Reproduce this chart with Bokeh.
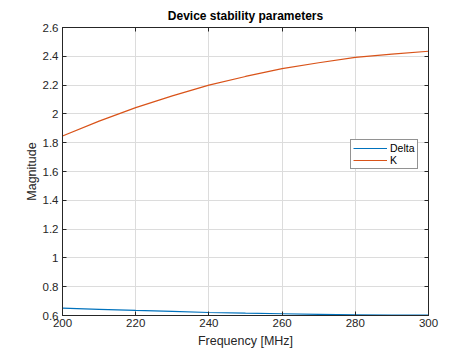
from bokeh.plotting import figure
from bokeh.models import LinearAxis, Range1d, FixedTicker, Legend, LegendItem
from bokeh.embed import file_html
from bokeh.resources import INLINE

freq = [200, 210, 220, 230, 240, 250, 260, 270, 280, 290, 300]
delta = [0.651, 0.643, 0.635, 0.628, 0.621, 0.616, 0.612, 0.608, 0.605, 0.603, 0.602]
k_vals = [1.847, 1.950, 2.044, 2.125, 2.200, 2.260, 2.314, 2.355, 2.393, 2.415, 2.435]
x_ticks = [200, 220, 240, 260, 280, 300]
y_ticks = [0.6, 0.8, 1.0, 1.2, 1.4, 1.6, 1.8, 2.0, 2.2, 2.4, 2.6]

FONT = "Liberation Sans"
TXT = "#262626"

p = figure(width=470, height=350, output_backend="svg", toolbar_location=None,
           x_range=Range1d(200, 300), y_range=Range1d(0.6, 2.6),
           min_border_left=62, min_border_right=42, min_border_top=27, min_border_bottom=35)

p.title.text = "Device stability parameters"
p.title.align = "center"
p.title.text_font = FONT
p.title.text_font_size = "12px"
p.title.text_font_style = "bold"
p.title.text_color = "black"
p.title.standoff = 9

p.outline_line_color = TXT
p.outline_line_width = 1
p.outline_line_alpha = 1

for ax in (p.xaxis[0], p.yaxis[0]):
    ax.major_tick_in = 4
    ax.major_tick_out = 0
    ax.minor_tick_line_color = None
    ax.axis_line_color = TXT
    ax.major_tick_line_color = TXT
    ax.major_label_text_font = FONT
    ax.major_label_text_font_size = "11.5px"
    ax.major_label_text_color = TXT
    ax.axis_label_text_font = FONT
    ax.axis_label_text_font_size = "12.5px"
    ax.axis_label_text_font_style = "normal"
    ax.axis_label_text_color = TXT

p.xaxis[0].ticker = FixedTicker(ticks=x_ticks)
p.yaxis[0].ticker = FixedTicker(ticks=y_ticks)
p.xaxis[0].axis_label = "Frequency [MHz]"
p.yaxis[0].axis_label = "Magnitude"
p.xaxis[0].major_label_standoff = 3
p.yaxis[0].major_label_standoff = 4
p.xaxis[0].axis_label_standoff = 4
p.yaxis[0].axis_label_standoff = 1
p.yaxis[0].major_label_overrides = {v: ("%g" % v) for v in y_ticks}

for side in ("right", "above"):
    ax = LinearAxis(ticker=FixedTicker(ticks=[], minor_ticks=(y_ticks if side == "right" else x_ticks)),
                    minor_tick_in=4, minor_tick_out=0, major_tick_line_color=None,
                    axis_line_color=TXT, minor_tick_line_color=TXT)
    p.add_layout(ax, side)

p.xgrid.ticker = FixedTicker(ticks=x_ticks)
p.ygrid.ticker = FixedTicker(ticks=y_ticks)
p.grid.grid_line_color = "#dcdcdc"
p.grid.grid_line_width = 1

r1 = p.line(freq, delta, line_color="#0072BD", line_width=1.2)
r2 = p.line(freq, k_vals, line_color="#D95319", line_width=1.2)

legend = Legend(items=[LegendItem(label="Delta", renderers=[r1]), LegendItem(label="K", renderers=[r2])],
                location=(288, 146), label_text_font=FONT, label_text_font_size="10.5px",
                label_text_color="black", border_line_color=TXT, border_line_width=1,
                background_fill_color="white", background_fill_alpha=1,
                padding=2, spacing=0, margin=0, glyph_width=34, glyph_height=10,
                label_height=10, label_standoff=3)
p.add_layout(legend, "center")

open("out.html", "w").write(file_html(p, INLINE))
